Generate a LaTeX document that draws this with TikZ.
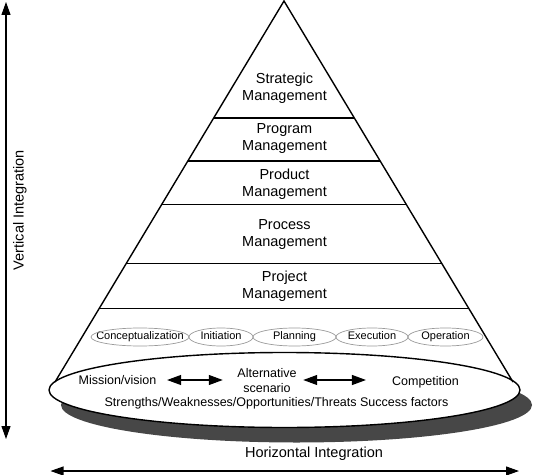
\documentclass[tikz,border=0pt]{standalone}
\usepackage{fontspec}
\setmainfont{Liberation Sans}
\usepackage{tikz}
\usetikzlibrary{arrows.meta,calc}
\definecolor{shadowgray}{HTML}{474747}
\definecolor{phasegray}{HTML}{9A9A9A}

\begin{document}
\begin{tikzpicture}
[x=1bp,y=-1bp,
  level node/.style={align=center,font=\fontsize{14.5bp}{17bp}\selectfont},
  phase node/.style={inner sep=0pt,text height=8bp,text depth=2.4bp,font=\fontsize{11bp}{13bp}\selectfont},
  scope node/.style={align=center,inner sep=0pt,font=\fontsize{12.5bp}{15bp}\selectfont},
  axis node/.style={inner sep=0pt,font=\fontsize{14.5bp}{17bp}\selectfont},
  both way/.style={{Triangle[length=14bp,width=10bp]}-{Triangle[length=14bp,width=10bp]},line width=1.1bp},
  axis arrow/.style={{Triangle[length=13bp,width=9bp]}-{Triangle[length=13bp,width=9bp]},line width=1.1bp},
  phase/.style={draw=phasegray,line width=0.7bp}]

  \useasboundingbox (0,0) rectangle (535,475);

  \coordinate (top) at 		(284,1);
  \coordinate (bl) at 		(55,382);
  \coordinate (br) at 		(513,382);

  % base of the pyramid
  \fill[shadowgray] (296.5,405) ellipse [x radius=235.5,y radius=37.5];
  \draw[fill=white,line width=1.4bp] (284.5,390) ellipse [x radius=235.5,y radius=37.5];
  \draw[line width=1.4bp] (bl) -- (top) -- (br);

  \foreach \t in {0.307,0.42,0.535,0.69,0.806}
    \draw[line width=1.1bp] ($(top)!\t!(bl)$) -- ($(top)!\t!(br)$);

  \node [level node] (strategic) at 	(284.5,88) 	{Strategic\\Management};
  \node [level node] (program) at 	(284.5,139) 	{Program\\Management};
  \node [level node] (product) at 	(284.5,184) 	{Product\\Management};
  \node [level node] (process) at 	(284.5,234.5) 	{Process\\Management};
  \node [level node] (project) at 	(284.5,286) 	{Project\\Management};

  \node [phase node] (conc) at 		(140,337) 	{Conceptualization};
  \node [phase node] (init) at 		(221,337) 	{Initiation};
  \node [phase node] (plan) at 		(294.5,337) 	{Planning};
  \node [phase node] (exec) at 		(372,337) 	{Execution};
  \node [phase node] (oper) at 		(445.5,337) 	{Operation};

  \foreach \n/\r in {conc/49,init/32,plan/41.5,exec/36,oper/37.5}
    \draw[phase] (\n.center) ellipse [x radius=\r,y radius=9];

  \node [scope node] (mission) at 	(117.5,380) 	{Mission/vision};
  \node [scope node] (alt) at 		(267,380.5) 	{Alternative\\scenario};
  \node [scope node] (comp) at 		(425.5,382) 	{Competition};
  \node [scope node] (swot) at 		(276.5,403) 	{Strengths/Weaknesses/Opportunities/Threats Success factors};

  \draw[both way] ([xshift=10.5bp]mission.east) -- ([xshift=-14.5bp]alt.west |- mission.east);
  \draw[both way] ([xshift=6.5bp]alt.east |- mission.east) -- ([xshift=-26bp]comp.west |- mission.east);

  % axes
  \coordinate (vtop) at 		(6,2);
  \coordinate (vbot) at 		(6,439);
  \coordinate (hleft) at 		(50.5,471);
  \coordinate (hright) at 		(519,471);
  \node [axis node,rotate=90] (vertical) at 	(20,210) 	{Vertical Integration};
  \node [axis node] (horizontal) at 	(314,454) 	{Horizontal Integration};
  \draw[axis arrow] (vtop) -- (vbot);
  \draw[axis arrow] (hleft) -- (hright);

\end{tikzpicture}
\end{document}
